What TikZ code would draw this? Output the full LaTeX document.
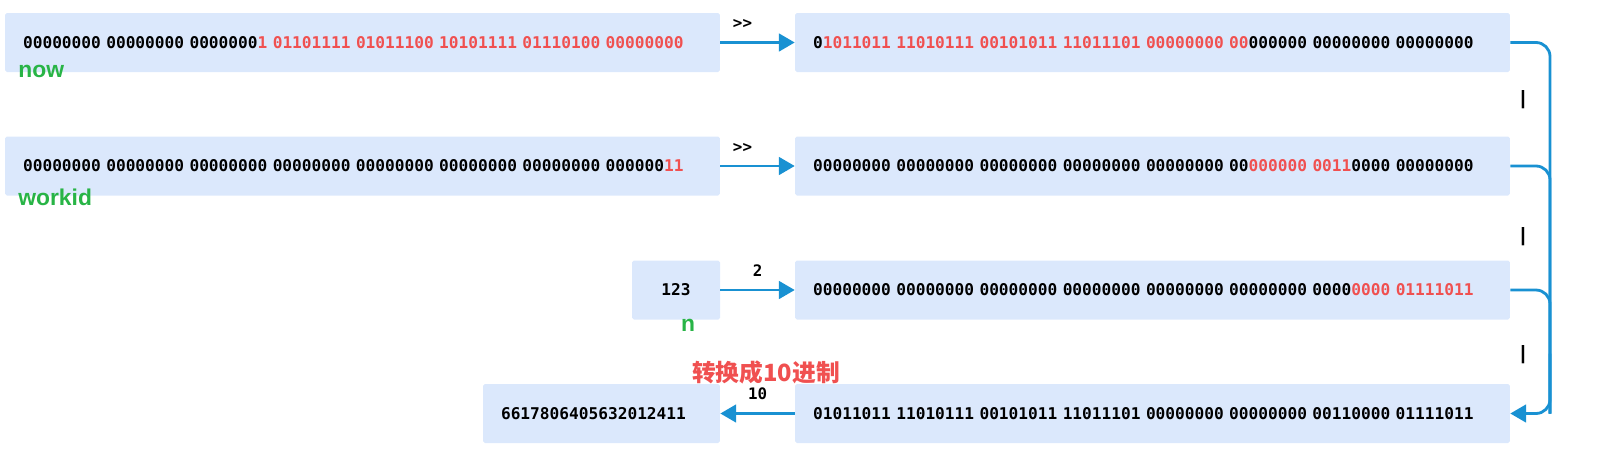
\documentclass[tikz,border=0pt]{standalone}
\usepackage{fontspec}
\setmonofont{DejaVu Sans Mono}
\setsansfont{Liberation Sans}
\newfontfamily\cjk{Noto Sans CJK SC}
\usetikzlibrary{positioning, arrows.meta, calc}
\definecolor{boxfill}{RGB}{219,232,252}
\definecolor{bitred}{RGB}{240,80,80}
\definecolor{taggreen}{RGB}{40,180,70}
\definecolor{flowblue}{RGB}{25,145,210}
\newcommand{\rd}[1]{\textcolor{bitred}{#1}}

\begin{document}
\begin{tikzpicture}[x=0.02cm,y=-0.02cm,
    bitbox/.style={rectangle, fill=boxfill, rounded corners=1pt, minimum height=1.18cm, text width=13.58cm, inner xsep=0.36cm, align=left, font=\fontsize{9.2}{10}\selectfont\ttfamily\bfseries},
    tag/.style={font=\fontsize{13}{14}\selectfont\sffamily\bfseries, text=taggreen, inner sep=0pt, anchor=west},
    flow/.style={draw=flowblue, line width=1.6pt, -{Triangle[length=9pt,width=10pt]}},
    bus/.style={draw=flowblue, line width=1.6pt, rounded corners=8pt},
    oplabel/.style={font=\fontsize{9}{10}\selectfont\ttfamily\bfseries, inner sep=0pt}
]

% Boxes
\node[bitbox] (nowbits) at (362.5,42.5) {00000000 00000000 0000000\rd{1 01101111 01011100 10101111 01110100 00000000}};
\node[bitbox] (nowshift) at (1152.5,42.5) {0\rd{1011011 11010111 00101011 11011101 00000000 00}000000 00000000 00000000};
\node[bitbox] (widbits) at (362.5,166) {00000000 00000000 00000000 00000000 00000000 00000000 00000000 000000\rd{11}};
\node[bitbox] (widshift) at (1152.5,166) {00000000 00000000 00000000 00000000 00000000 00\rd{000000 0011}0000 00000000};
\node[bitbox, text width=1.04cm, align=center] (seq) at (676,290) {123};
\node[bitbox] (seqbits) at (1152.5,290) {00000000 00000000 00000000 00000000 00000000 00000000 0000\rd{0000 01111011}};
\node[bitbox] (idbits) at (1152.5,413.5) {01011011 11010111 00101011 11011101 00000000 00000000 00110000 01111011};
\node[bitbox, text width=4.02cm] (iddec) at (601.5,413.5) {6617806405632012411};

% Labels
\node[tag] (nowtag) at (18,71) {now};
\node[tag] (widtag) at (18,197) {workid};
\node[tag, anchor=center] (seqtag) at (688,325) {n};
\node[font=\fontsize{13.5}{15}\selectfont\cjk\bfseries, text=bitred, inner sep=0pt] (convtag) at (766,372) {转换成10进制};

% Arrows
\draw[flow] (nowbits) -- (nowshift) node[oplabel, midway, above=0.25cm, xshift=-0.3cm] {>>};
\draw[flow] (widbits) -- (widshift) node[oplabel, midway, above=0.25cm, xshift=-0.3cm] {>>};
\draw[flow] (seq) -- (seqbits) node[oplabel, midway, above=0.25cm] {2};
\draw[flow] (idbits) -- (iddec) node[oplabel, midway, above=0.25cm] {10};

% Merge line
\coordinate (busend) at (1550,413.5);
\draw[bus] (nowshift.east) -| (busend);
\draw[bus] (widshift.east) -| (busend);
\draw[bus] (seqbits.east) -| (busend);
\draw[flow, rounded corners=8pt] ($(busend)+(0,-60)$) |- (idbits.east);
\foreach \y/\n in {100/or1, 237/or2, 355/or3}
  \node[oplabel, font=\sffamily\bfseries\fontsize{11}{12}\selectfont] (\n) at (1523,\y) {|};

\pgfresetboundingbox
\useasboundingbox (0,0) rectangle (1618,471);
\end{tikzpicture}
\end{document}
